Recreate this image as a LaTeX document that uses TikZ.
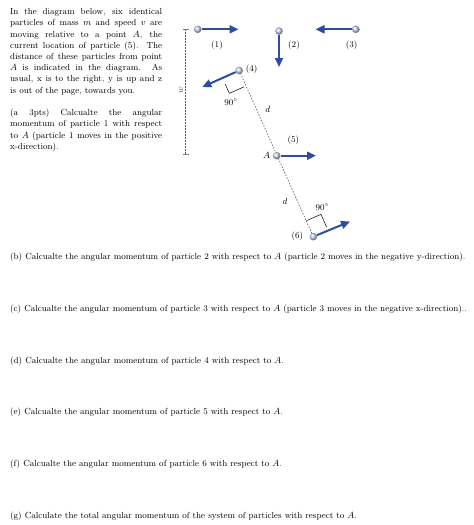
\documentclass[tikz,border=0pt]{standalone}
\usetikzlibrary{arrows.meta, positioning}
\usepackage{xcolor}
\definecolor{velblue}{RGB}{44,78,160}
\definecolor{ballblue}{RGB}{205,218,248}

\begin{document}
\begin{tikzpicture}[
x=1pt, y=-1pt,
>={Triangle[length=9pt,width=8pt]},
every node/.style={font=\fontsize{8.8}{11.2}\selectfont},
ball/.style={circle,inner sep=0pt,minimum size=7.5pt,shading=ball,ball color=ballblue},
vel/.style={->,line width=2pt,velblue},
dist/.style={dash pattern=on 1.5pt off 1.5pt, gray!70!black, line width=0.6pt},
lbl/.style={inner sep=1pt},
para/.style={anchor=north west, text width=152pt, align=justify, inner sep=0pt},
item/.style={anchor=base west, inner sep=0pt},
]
\useasboundingbox (0,0) rectangle (474,525);

% text
\node[para] (intro) at (10,8.4) {In the diagram below, six identical\linebreak
particles of mass $m$ and speed $v$ are\linebreak
moving relative to a point $A$, the\linebreak
current location of particle (5). The\linebreak
distance of these particles from point\linebreak
$A$ is indicated in the diagram. As\linebreak
usual, x is to the right, y is up and z\linebreak
is out of the page, towards you.};
\node[para] (qa) at (10,108.8) {(a 3pts) Calcualte the angular\linebreak
momentum of particle 1 with respect\linebreak
to $A$ (particle 1 moves in the positive\linebreak
x-direction).};
\node[item] (qb) at (10,259.5) {(b) Calcualte the angular momentum of particle 2 with respect to $A$ (particle 2 moves in the negative y-direction).};
\node[item] (qc) at (10,311.5) {(c) Calcualte the angular momentum of particle 3 with respect to $A$ (particle 3 moves in the negative x-direction)..};
\node[item] (qd) at (10,363.5) {(d) Calcualte the angular momentum of particle 4 with respect to $A$.};
\node[item] (qe) at (10,414.5) {(e) Calcualte the angular momentum of particle 5 with respect to $A$.};
\node[item] (qf) at (10,466.5) {(f) Calcualte the angular momentum of particle 6 with respect to $A$.};
\node[item] (qg) at (10,518) {(g) Calculate the total angular momentum of the system of particles with respect to $A$.};

% w marker
\coordinate (wtop) at (185.7,29.3);
\coordinate (wbot) at (185.7,154.5);
\draw[dist] (wtop) -- (wbot);
\draw[gray, line width=0.5pt] ([xshift=-3pt]wtop) -- ([xshift=3pt]wtop);
\draw[gray, line width=0.5pt] ([xshift=-3pt]wbot) -- ([xshift=3pt]wbot);
\node[lbl, rotate=90, gray!60!black] (w) at (181.2,90) {$w$};

% distance line
\coordinate (p4c) at (239.2,70.5);
\coordinate (p6c) at (313.3,236.7);
\draw[dist] (p4c) -- (p6c);

% nodes
\node[ball] (p1) at (197.7,29.3) {};
\node[ball] (p2) at (279,31) {};
\node[ball] (p3) at (355.7,29.3) {};
\node[ball] (p4) at (p4c) {};
\node[ball] (p5) at (276.7,155.7) {};
\node[ball] (p6) at (p6c) {};
\coordinate (h1) at (238.5,29.3);
\coordinate (h2) at (279,67);
\coordinate (h3) at (315.5,29.3);
\coordinate (h4) at (202.3,87);
\coordinate (h5) at (316,155.7);
\coordinate (h6) at (350,221.5);

% arrows
\draw[vel] (p1) -- (h1);
\draw[vel] (p2) -- (h2);
\draw[vel] (p3) -- (h3);
\draw[vel] (p4) -- (h4);
\draw[vel] (p5) -- (h5);
\draw[vel] (p6) -- (h6);

% right angles
\draw[line width=0.5pt] (225.3,84.2) -- (229.3,93.3) -- (243.9,86.9);
\draw[line width=0.5pt] (306.4,220.7) -- (321,214.3) -- (326.6,227.1);

% labels
\node[lbl] (l1) at (217,45.7) {(1)};
\node[lbl] (l2) at (294,45.7) {(2)};
\node[lbl] (l3) at (351.7,45.7) {(3)};
\node[lbl] (l4) at (251.7,69) {(4)};
\node[lbl] (l5) at (293.3,140.7) {(5)};
\node[lbl] (l6) at (297.3,236.7) {(6)};
\node[lbl] (la) at (266.5,155.7) {$A$};
\node[lbl] (d1) at (267.7,109) {$d$};
\node[lbl] (d2) at (285,201.7) {$d$};
\node[lbl] (r4) at (231,102) {90$^\circ$};
\node[lbl] (r6) at (322.3,207.3) {90$^\circ$};
\end{tikzpicture}
\end{document}
